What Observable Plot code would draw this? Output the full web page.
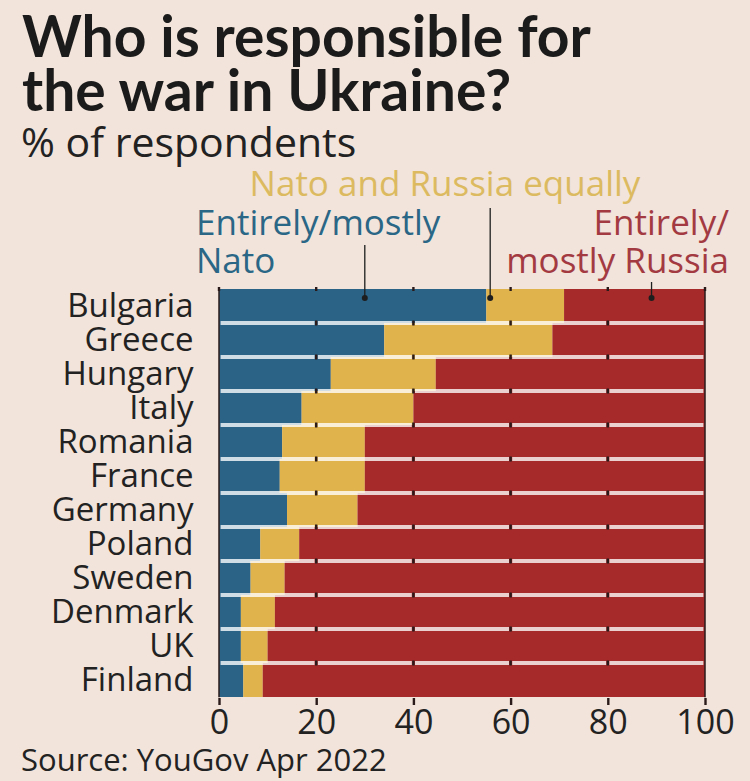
<!DOCTYPE html>
<html>
<head>
<meta charset="utf-8">
<script src="https://cdn.jsdelivr.net/npm/d3@7"></script>
<script src="https://cdn.jsdelivr.net/npm/@observablehq/plot@0.6"></script>
<style>
  html, body { margin: 0; padding: 0; background: #f2e4da; }
  body { width: 750px; height: 781px; position: relative; overflow: hidden; font-family: "Open Sans", sans-serif; }
  #title { position: absolute; left: 22px; top: 8px; font: 700 57px/54px Lato, sans-serif; color: #1b1b1b; white-space: nowrap; }
  #subtitle { position: absolute; left: 21px; top: 119px; font: 400 41px/44px "Open Sans", sans-serif; color: #222; white-space: nowrap; }
  #chart { position: absolute; left: 0; top: 165px; }
  #source { position: absolute; left: 21px; top: 742px; font: 400 31px/34px "Open Sans", sans-serif; color: #222; white-space: nowrap; }
</style>
</head>
<body>
<div id="title">Who is responsible for<br>the war in Ukraine?</div>
<div id="subtitle">% of respondents</div>
<div id="chart"></div>
<div id="source">Source: YouGov Apr 2022</div>
<script>
const countries = ["Bulgaria", "Greece", "Hungary", "Italy", "Romania", "France", "Germany", "Poland", "Sweden", "Denmark", "UK", "Finland"];
const natoValues   = [55, 34, 23, 17, 13, 12.5, 14, 8.5, 6.5, 4.5, 4.5, 5];
const equalValues  = [16, 34.6, 21.6, 23, 17, 17.5, 14.5, 8, 7, 7, 5.5, 4];
const russiaValues = [29, 31.4, 55.4, 60, 70, 70, 71.5, 83.5, 86.5, 88.5, 90, 91];
const seriesNames = ["Entirely/mostly Nato", "Nato and Russia equally", "Entirely/mostly Russia"];
const seriesColors = ["#2b6386", "#e1b34c", "#a62a2a"];
const labelColors = ["#2a6686", "#dcba60", "#a33a42"];
const xTicks = [0, 20, 40, 60, 80, 100];
// annotation anchor values (x, in %) where leader lines touch the first bar
const annotationX = [30, 55.8, 89];

const data = countries.flatMap((c, i) => [
  {country: c, series: seriesNames[0], value: natoValues[i]},
  {country: c, series: seriesNames[1], value: equalValues[i]},
  {country: c, series: seriesNames[2], value: russiaValues[i]}
]);

const W = 750, H = 580, mt = 123, mb = 47, ml = 219, mr = 45;

function decorations(index, scales, values, dims) {
  const x = scales.x, y = scales.y;
  const bw = (dims.height - dims.marginTop - dims.marginBottom) / countries.length;
  const g = d3.create("svg:g");
  // separator lines between rows, broken at gridlines
  for (let i = 1; i < countries.length; i++) {
    const yy = y(countries[i]);
    for (let k = 0; k < xTicks.length - 1; k++) {
      g.append("line")
        .attr("x1", x(xTicks[k]) + 1.6).attr("x2", x(xTicks[k + 1]) - 1.6)
        .attr("y1", yy).attr("y2", yy)
        .attr("stroke", "#fff").attr("stroke-opacity", 0.78).attr("stroke-width", 4);
    }
    for (const t of xTicks.slice(1, -1)) {
      g.append("line")
        .attr("x1", x(t)).attr("x2", x(t))
        .attr("y1", yy - 2.5).attr("y2", yy + 2.5)
        .attr("stroke", "#2a1a1a").attr("stroke-width", 2.4);
    }
  }
  // small marks on top of first row
  const y0 = y(countries[0]);
  for (const t of xTicks) {
    g.append("line")
      .attr("x1", x(t)).attr("x2", x(t))
      .attr("y1", y0 - 2).attr("y2", y0 + 2)
      .attr("stroke", "#2a1a1a").attr("stroke-width", 2.4);
  }
  // dark edges at 0 and 100
  const yEnd = y(countries[countries.length - 1]) + bw;
  for (const t of [0, 100]) {
    g.append("line")
      .attr("x1", x(t)).attr("x2", x(t))
      .attr("y1", y0 - 2).attr("y2", yEnd)
      .attr("stroke", "#2a1a1a").attr("stroke-opacity", 0.75).attr("stroke-width", 2);
  }
  // annotations
  const dotY = y0 + 9;
  const font = '"Open Sans", sans-serif';
  const addText = (txt, px, py, anchor, color) => g.append("text")
    .attr("x", px).attr("y", py).attr("text-anchor", anchor)
    .attr("fill", color).attr("font-family", font).attr("font-size", 35).text(txt);
  addText("Nato and Russia equally", 445, 31, "middle", labelColors[1]);
  addText("Entirely/mostly", 196, 70, "start", labelColors[0]);
  addText("Nato", 196, 108, "start", labelColors[0]);
  addText("Entirely/", 729, 70, "end", labelColors[2]);
  addText("mostly Russia", 729, 108, "end", labelColors[2]);
  const tops = [80, 43, 117];
  annotationX.forEach((v, i) => {
    g.append("line").attr("x1", x(v)).attr("x2", x(v)).attr("y1", tops[i]).attr("y2", dotY)
      .attr("stroke", "#1e1e1e").attr("stroke-width", 1.3);
    g.append("circle").attr("cx", x(v)).attr("cy", dotY).attr("r", 3).attr("fill", "#1e1e1e");
  });
  return g.node();
}

const chart = Plot.plot({
  width: W, height: H,
  marginTop: mt, marginBottom: mb, marginLeft: ml, marginRight: mr,
  style: {background: "transparent", fontFamily: '"Open Sans", sans-serif', color: "#222", overflow: "visible"},
  x: {domain: [0, 100]},
  y: {domain: countries, padding: 0},
  color: {domain: seriesNames, range: seriesColors},
  marks: [
    Plot.barX(data, {x: "value", y: "country", fill: "series", inset: 0, order: seriesNames}),
    decorations,
    Plot.axisX({ticks: xTicks, tickSize: 7, tickPadding: 4, fontSize: 34, label: null, strokeWidth: 2.4, stroke: "#2a1a1a", fill: "#222"}),
    Plot.axisY({tickSize: 0, tickPadding: 26, fontSize: 33, label: null, fill: "#222"})
  ]
});
document.getElementById("chart").appendChild(chart);
</script>
</body>
</html>
